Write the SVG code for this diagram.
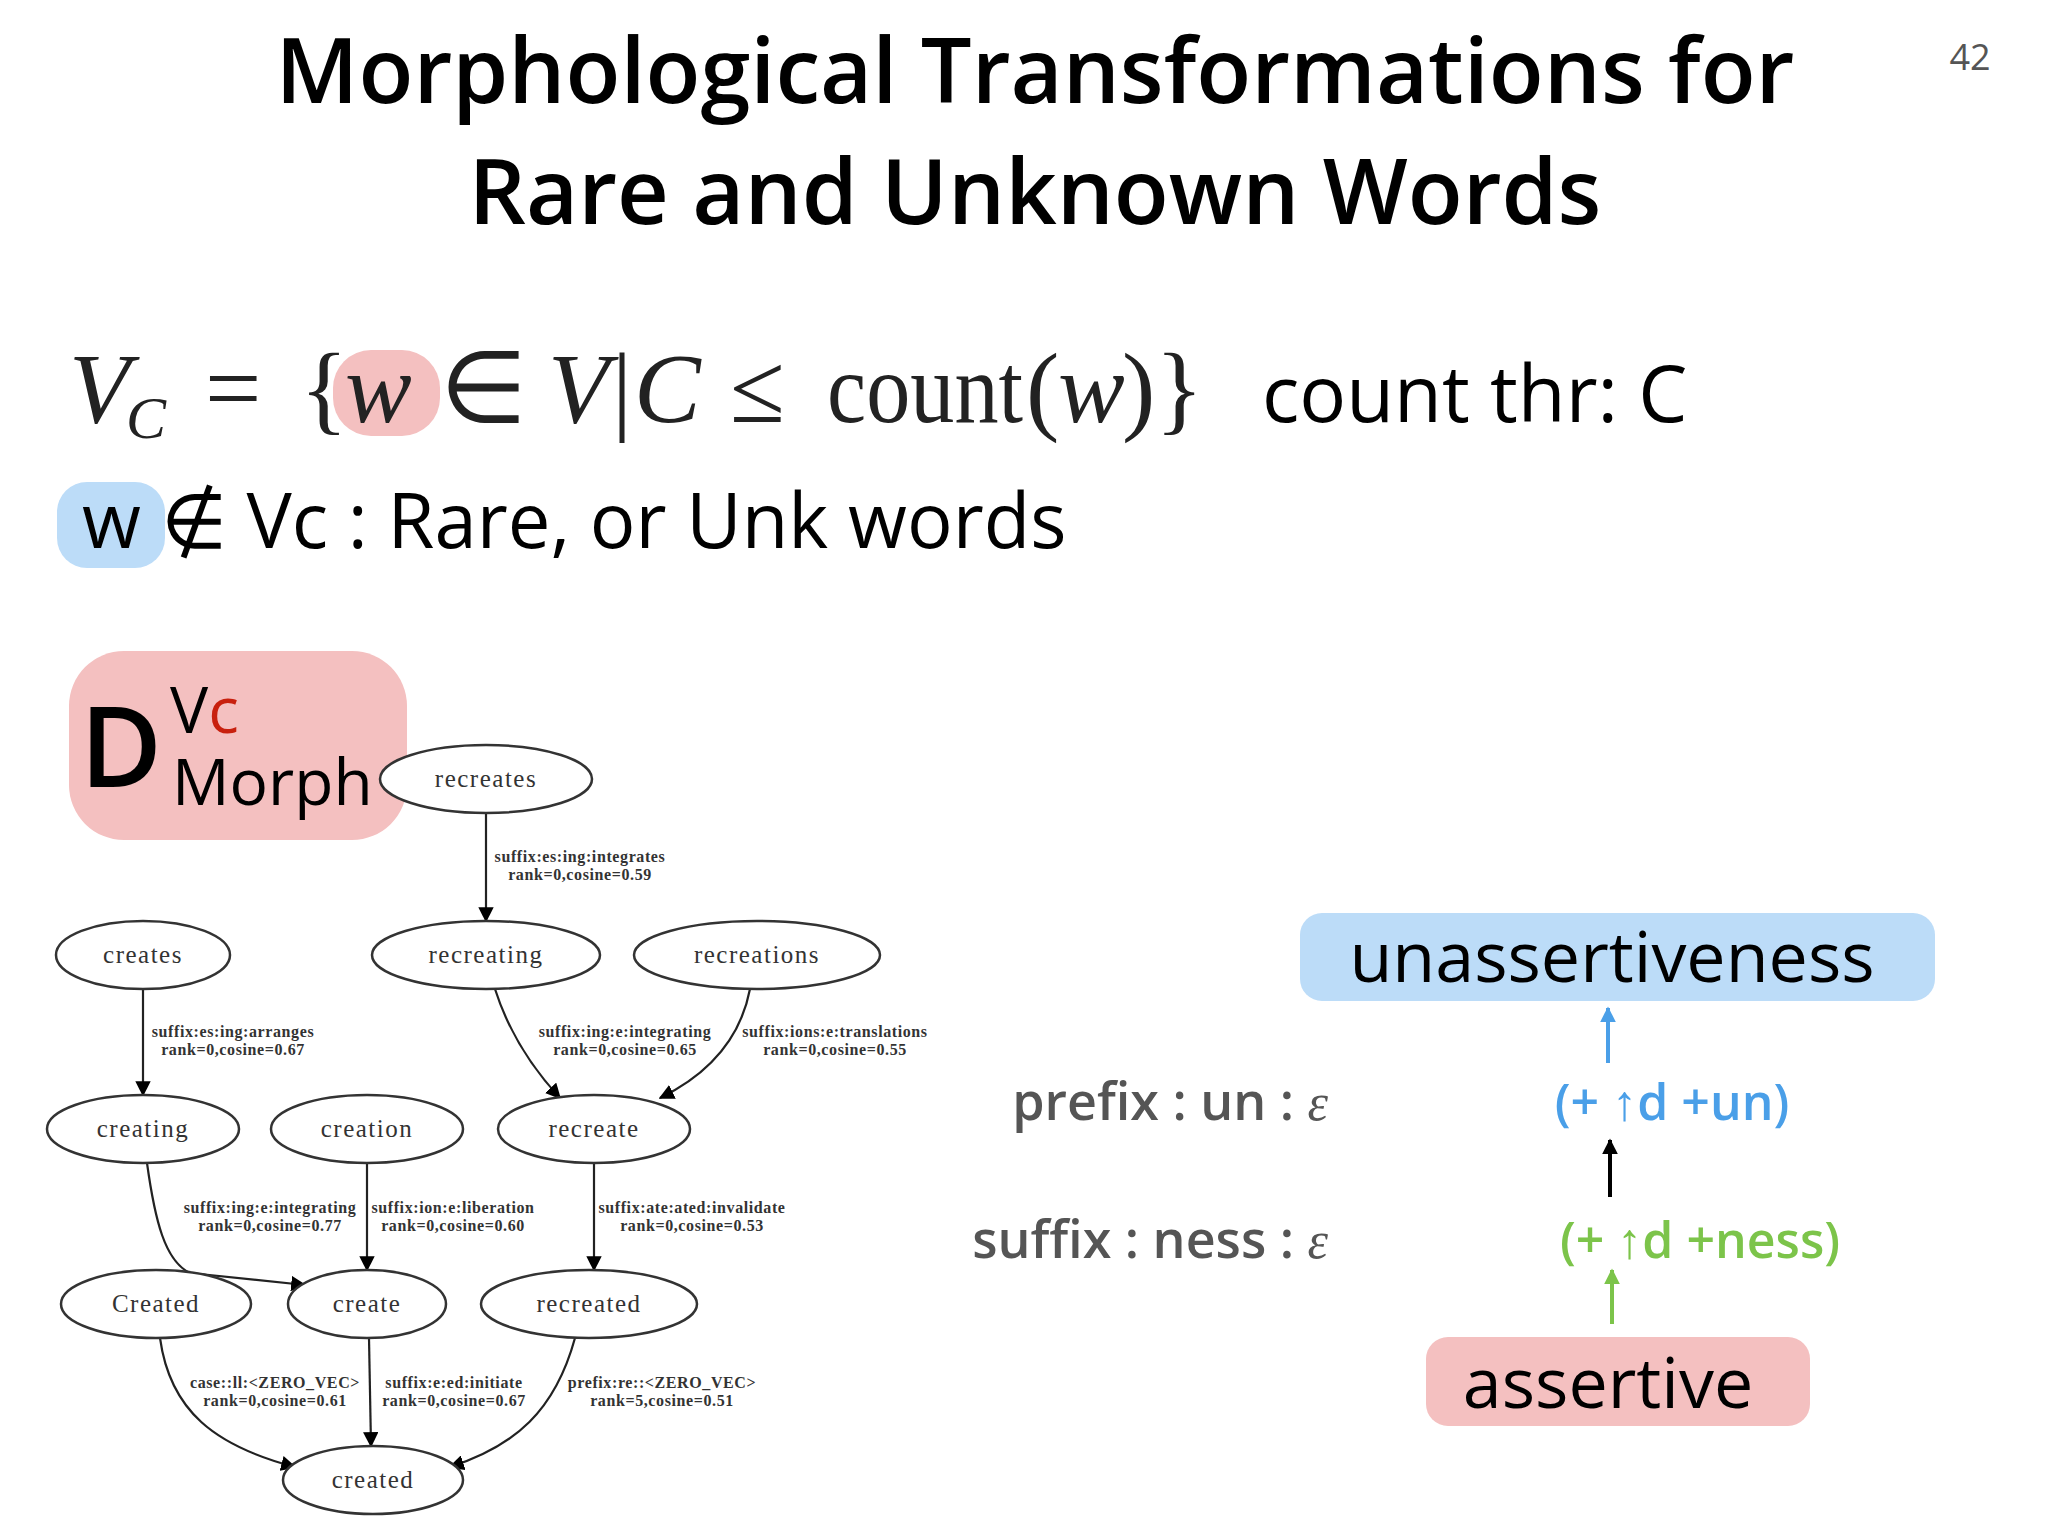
<svg xmlns="http://www.w3.org/2000/svg" width="2048" height="1536" viewBox="0 0 2048 1536">
<defs>
<marker id="ah" viewBox="0 0 10 10" refX="9" refY="5" markerWidth="7" markerHeight="7" orient="auto"><path d="M0,0L10,5L0,10z" fill="#000"/></marker>
<marker id="ab" viewBox="0 0 10 10" refX="9" refY="5" markerWidth="4" markerHeight="4" orient="auto"><path d="M0,0L10,5L0,10z" fill="#4a9fe8"/></marker>
<marker id="ak" viewBox="0 0 10 10" refX="9" refY="5" markerWidth="4" markerHeight="4" orient="auto"><path d="M0,0L10,5L0,10z" fill="#000"/></marker>
<marker id="ag" viewBox="0 0 10 10" refX="9" refY="5" markerWidth="4" markerHeight="4" orient="auto"><path d="M0,0L10,5L0,10z" fill="#7cc44a"/></marker>
</defs>
<style>
.t{font-family:"Open Sans","Liberation Sans",sans-serif;fill:#000}
.m{font-family:"Liberation Serif",serif;fill:#222;font-size:100px}
.i{font-style:italic}
.n ellipse{fill:#fff;stroke:#333;stroke-width:2.5}
.n text{font-family:"Liberation Serif",serif;font-size:25px;text-anchor:middle;fill:#333;letter-spacing:1.5px}
.el{font-family:"Liberation Serif",serif;font-size:16px;font-weight:bold;text-anchor:middle;fill:#333;letter-spacing:0.6px}
.e path{fill:none;stroke:#222;stroke-width:2.2;marker-end:url(#ah)}
</style>
<rect width="2048" height="1536" fill="#fff"/>
<text class="t" x="1035" y="103" font-size="90" font-weight="600" text-anchor="middle">Morphological Transformations for</text>
<text class="t" x="1035" y="224" font-size="90" font-weight="600" text-anchor="middle">Rare and Unknown Words</text>
<text class="t" x="1970" y="70" font-size="36" text-anchor="middle" style="fill:#555">42</text>
<rect x="333" y="350" width="107" height="86" rx="38" fill="#f4c0c0"/>
<g class="m">
<text x="69" y="422" class="i">V</text>
<text x="126" y="438" class="i" font-size="60">C</text>
<text x="205" y="422">=</text>
<text x="300" y="422">{</text>
<text x="345" y="422" class="i">w</text>
<text x="440" y="422">∈</text>
<text x="548" y="422" class="i">V</text>
<text x="612" y="422">|</text>
<text x="634" y="422" class="i">C</text>
<text x="730" y="422">≤</text>
<text x="827" y="422" textLength="196" lengthAdjust="spacingAndGlyphs">count</text>
<text x="1026" y="422">(</text>
<text x="1058" y="422" class="i">w</text>
<text x="1122" y="422">)}</text>
</g>
<text class="t" x="1262" y="422" font-size="78">count thr: C</text>
<rect x="57" y="482" width="108" height="86" rx="30" fill="#bcdcf8"/>
<text class="t" x="82" y="548" font-size="76">w ∉ Vc : Rare, or Unk words</text>
<g id="dmorph">
<rect x="69" y="651" width="338" height="189" rx="55" fill="#f4c0c0"/>
<text class="t" x="80" y="787" font-size="112" font-weight="600">D</text>
<text class="t" x="170" y="733" font-size="64" font-weight="500">V<tspan style="fill:#c8200e">c</tspan></text>
<text class="t" x="172" y="805" font-size="64" font-weight="500">Morph</text>
</g>
<g transform="translate(-5,-9)">
<g id="connectors" class="e">
<path d="M491,822 L491,930"/>
<path d="M148,998 L148,1104"/>
<path d="M500,998 C515,1045 540,1080 565,1107"/>
<path d="M755,998 C745,1050 710,1085 665,1107"/>
<path d="M152,1172 C160,1230 170,1270 195,1282 L310,1294"/>
<path d="M372,1172 L372,1279"/>
<path d="M599,1172 L599,1279"/>
<path d="M165,1347 C175,1420 220,1455 300,1476"/>
<path d="M374,1347 L376,1455"/>
<path d="M580,1347 C560,1420 520,1455 455,1476"/>
</g>
<g class="el">
<text x="585" y="871">suffix:es:ing:integrates</text><text x="585" y="889">rank=0,cosine=0.59</text>
<text x="238" y="1046">suffix:es:ing:arranges</text><text x="238" y="1064">rank=0,cosine=0.67</text>
<text x="630" y="1046">suffix:ing:e:integrating</text><text x="630" y="1064">rank=0,cosine=0.65</text>
<text x="840" y="1046">suffix:ions:e:translations</text><text x="840" y="1064">rank=0,cosine=0.55</text>
<text x="275" y="1222">suffix:ing:e:integrating</text><text x="275" y="1240">rank=0,cosine=0.77</text>
<text x="458" y="1222">suffix:ion:e:liberation</text><text x="458" y="1240">rank=0,cosine=0.60</text>
<text x="697" y="1222">suffix:ate:ated:invalidate</text><text x="697" y="1240">rank=0,cosine=0.53</text>
<text x="280" y="1397">case::ll:&lt;ZERO_VEC&gt;</text><text x="280" y="1415">rank=0,cosine=0.61</text>
<text x="459" y="1397">suffix:e:ed:initiate</text><text x="459" y="1415">rank=0,cosine=0.67</text>
<text x="667" y="1397">prefix:re::&lt;ZERO_VEC&gt;</text><text x="667" y="1415">rank=5,cosine=0.51</text>
</g>
<g id="recreates" class="n"><ellipse cx="491" cy="788" rx="106" ry="34"/><text x="491" y="796">recreates</text></g>
<g id="creates" class="n"><ellipse cx="148" cy="964" rx="87" ry="34"/><text x="148" y="972">creates</text></g>
<g id="recreating" class="n"><ellipse cx="491" cy="964" rx="114" ry="34"/><text x="491" y="972">recreating</text></g>
<g id="recreations" class="n"><ellipse cx="762" cy="964" rx="123" ry="34"/><text x="762" y="972">recreations</text></g>
<g id="creating" class="n"><ellipse cx="148" cy="1138" rx="96" ry="34"/><text x="148" y="1146">creating</text></g>
<g id="creation" class="n"><ellipse cx="372" cy="1138" rx="96" ry="34"/><text x="372" y="1146">creation</text></g>
<g id="recreate" class="n"><ellipse cx="599" cy="1138" rx="96" ry="34"/><text x="599" y="1146">recreate</text></g>
<g id="Created" class="n"><ellipse cx="161" cy="1313" rx="95" ry="34"/><text x="161" y="1321">Created</text></g>
<g id="create" class="n"><ellipse cx="372" cy="1313" rx="79" ry="34"/><text x="372" y="1321">create</text></g>
<g id="recreated" class="n"><ellipse cx="594" cy="1313" rx="108" ry="34"/><text x="594" y="1321">recreated</text></g>
<g id="created" class="n"><ellipse cx="378" cy="1489" rx="90" ry="34"/><text x="378" y="1497">created</text></g>
</g>
<g id="unassertiveness"><rect x="1300" y="913" width="635" height="88" rx="22" fill="#bcdcf8"/><text class="t" x="1612" y="982" font-size="70" text-anchor="middle">unassertiveness</text></g>
<g id="assertive"><rect x="1426" y="1337" width="384" height="89" rx="22" fill="#f4c0c0"/><text class="t" x="1608" y="1408" font-size="70" text-anchor="middle">assertive</text></g>
<text class="t" x="1328" y="1120" font-size="52" font-weight="600" text-anchor="end" style="fill:#555">prefix : un : <tspan font-family="Liberation Serif" font-style="italic" font-weight="normal">ε</tspan></text>
<text class="t" x="1328" y="1258" font-size="52" font-weight="600" text-anchor="end" style="fill:#555">suffix : ness : <tspan font-family="Liberation Serif" font-style="italic" font-weight="normal">ε</tspan></text>
<text class="t" x="1672" y="1120" font-size="50" font-weight="600" text-anchor="middle" style="fill:#4a9fe8">(+ ↑d +un)</text>
<text class="t" x="1700" y="1258" font-size="50" font-weight="600" text-anchor="middle" style="fill:#7cc44a">(+ ↑d +ness)</text>
<g id="arrows" fill="none" stroke-width="4">
<path d="M1608,1063 L1608,1008" stroke="#4a9fe8" marker-end="url(#ab)"/>
<path d="M1610,1197 L1610,1140" stroke="#000" marker-end="url(#ak)"/>
<path d="M1612,1324 L1612,1270" stroke="#7cc44a" marker-end="url(#ag)"/>
</g>
</svg>
